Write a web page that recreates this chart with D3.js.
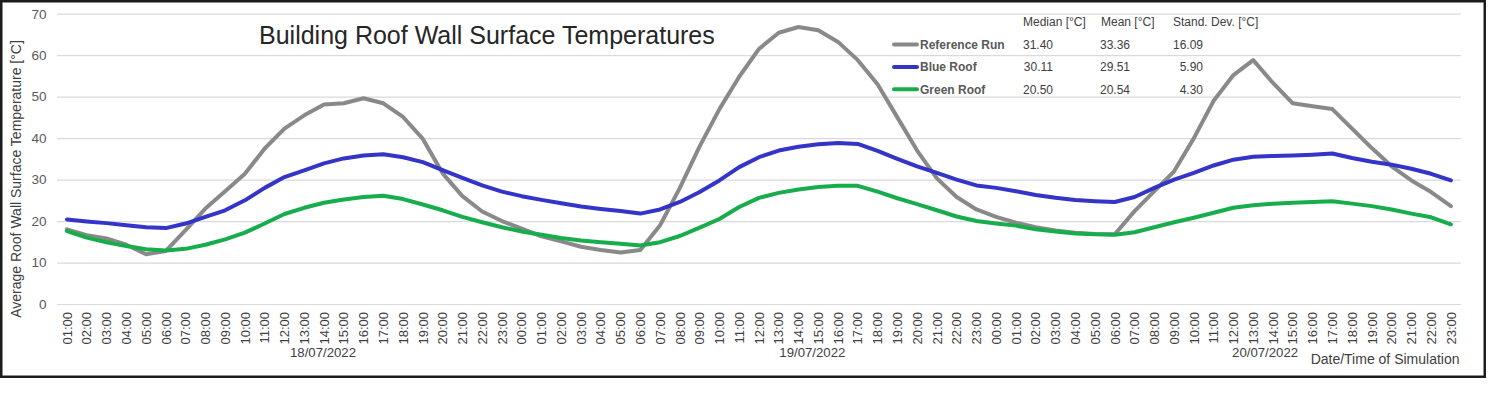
<!DOCTYPE html>
<html>
<head>
<meta charset="utf-8">
<script src="https://cdn.jsdelivr.net/npm/d3@7"></script>
<style>
  html, body { margin: 0; padding: 0; background: #ffffff; }
  svg { display: block; font-family: "Liberation Sans", Arial, Helvetica, sans-serif; }
</style>
</head>
<body>
<svg id="chart" width="1499" height="400"></svg>
<script>
// ---------------- DATA ----------------
const hourLabels = [
  "01:00","02:00","03:00","04:00","05:00","06:00","07:00","08:00","09:00","10:00","11:00","12:00",
  "13:00","14:00","15:00","16:00","17:00","18:00","19:00","20:00","21:00","22:00","23:00",
  "00:00","01:00","02:00","03:00","04:00","05:00","06:00","07:00","08:00","09:00","10:00","11:00","12:00",
  "13:00","14:00","15:00","16:00","17:00","18:00","19:00","20:00","21:00","22:00","23:00",
  "00:00","01:00","02:00","03:00","04:00","05:00","06:00","07:00","08:00","09:00","10:00","11:00","12:00",
  "13:00","14:00","15:00","16:00","17:00","18:00","19:00","20:00","21:00","22:00","23:00"
];

const referenceRun = [
  18.0,16.6,15.8,14.3,12.0,12.8,17.8,23.0,27.2,31.4,37.5,42.3,45.5,48.1,48.4,49.6,48.4,45.1,39.8,31.5,26.0,22.3,20.0,
  18.2,16.3,15.1,13.8,13.0,12.4,13.0,19.0,28.0,38.0,47.0,54.8,61.5,65.4,66.8,66.0,63.2,58.8,53.0,45.0,37.0,30.3,25.8,22.8,
  21.0,19.6,18.5,17.7,17.2,16.9,16.8,22.4,27.2,32.0,40.0,49.0,55.2,58.8,53.3,48.4,47.7,47.0,42.3,37.6,33.2,29.8,27.0,23.6
];

const blueRoof = [
  20.4,19.9,19.5,19.0,18.5,18.3,19.4,21.0,22.6,25.0,28.0,30.6,32.2,33.9,35.1,35.8,36.1,35.4,34.2,32.3,30.4,28.6,27.1,
  26.0,25.1,24.3,23.5,22.9,22.4,21.8,22.8,24.6,27.0,29.8,33.0,35.4,37.0,37.9,38.5,38.8,38.6,36.9,35.0,33.2,31.6,30.0,28.6,
  28.0,27.2,26.3,25.6,25.1,24.8,24.6,25.8,28.0,30.0,31.6,33.4,34.8,35.5,35.7,35.8,36.0,36.3,35.2,34.3,33.6,32.6,31.4,29.8
];

const greenRoof = [
  17.6,16.0,14.9,14.0,13.2,12.9,13.3,14.3,15.6,17.2,19.4,21.7,23.2,24.4,25.2,25.8,26.1,25.3,24.0,22.6,21.0,19.7,18.5,
  17.5,16.7,15.9,15.3,14.9,14.5,14.1,14.9,16.4,18.4,20.5,23.4,25.6,26.8,27.6,28.2,28.5,28.5,27.1,25.5,24.1,22.6,21.1,20.0,
  19.4,18.9,18.0,17.5,17.0,16.8,16.7,17.3,18.5,19.7,20.8,22.0,23.2,23.8,24.2,24.4,24.6,24.8,24.2,23.6,22.8,21.8,20.9,19.2
];

const yTicks = [0, 10, 20, 30, 40, 50, 60, 70];

const dateLabels = ["18/07/2022", "19/07/2022", "20/07/2022"];
const dateLabelIndex = [12.95, 37.7, 60.6];   // category position under which each date sits

const seriesNames = ["Reference Run", "Blue Roof", "Green Roof"];
const seriesColors = ["#898989", "#3434c8", "#18ad4c"];
const statHeaders = ["Median [°C]", "Mean [°C]", "Stand. Dev. [°C]"];
const medians = ["31.40", "30.11", "20.50"];
const means = ["33.36", "29.51", "20.54"];
const stdDevs = ["16.09", "5.90", "4.30"];

const chartTitle = "Building Roof Wall Surface Temperatures";
const yTitle = "Average Roof Wall Surface Temperature [°C]";
const xTitle = "Date/Time of Simulation";

// ---------------- LAYOUT ----------------
const svg = d3.select("#chart");
const plotLeft = 57.1, plotRight = 1460.8, plotTop = 13.7, plotBottom = 304;

svg.append("rect")
  .attr("x", 1.25).attr("y", 1.25)
  .attr("width", 1483.5).attr("height", 375.5)
  .attr("fill", "#ffffff")
  .attr("stroke", "#1c1c1c").attr("stroke-width", 2.5);

const x = d3.scaleBand()
  .domain(d3.range(hourLabels.length))
  .range([plotLeft, plotRight])
  .paddingInner(0).paddingOuter(0);
const cx = i => x(i) + x.bandwidth() / 2;
const cxFrac = f => plotLeft + x.step() * (f + 0.5);

const y = d3.scaleLinear().domain([0, 70]).range([plotBottom, plotTop]);

// Y axis with gridlines
const yAxisG = svg.append("g")
  .attr("transform", `translate(${plotLeft},0)`)
  .call(d3.axisLeft(y).tickValues(yTicks).tickSize(-(plotRight - plotLeft)).tickPadding(10.5).tickFormat(d3.format("d")));
yAxisG.select(".domain").remove();
yAxisG.selectAll(".tick line").attr("stroke", "#d9d9d9").attr("stroke-width", 1.2);
yAxisG.selectAll(".tick text")
  .attr("fill", "#595959")
  .style("font-size", "13.5px")
  .style("font-family", "'Liberation Sans', Arial, sans-serif");

// X axis
const xAxisG = svg.append("g")
  .attr("transform", `translate(0,${plotBottom})`)
  .call(d3.axisBottom(x).tickSize(0).tickFormat(i => hourLabels[i]));
xAxisG.select(".domain").remove();
xAxisG.selectAll(".tick text")
  .attr("transform", "rotate(-90)")
  .attr("text-anchor", "end")
  .attr("x", -8)
  .attr("y", 0)
  .attr("dy", "0.36em")
  .attr("fill", "#404040")
  .style("font-size", "13px")
  .style("font-family", "'Liberation Sans', Arial, sans-serif");

// Date labels
svg.append("g").selectAll("text")
  .data(dateLabels)
  .join("text")
  .attr("x", (d, i) => cxFrac(dateLabelIndex[i]))
  .attr("y", 357)
  .attr("text-anchor", "middle")
  .attr("fill", "#404040")
  .style("font-size", "13.2px")
  .text(d => d);

// X axis title
svg.append("text")
  .attr("x", 1459.5).attr("y", 364)
  .attr("text-anchor", "end")
  .attr("fill", "#404040")
  .style("font-size", "14px")
  .text(xTitle);

// Y axis title
svg.append("text")
  .attr("transform", "translate(16,179) rotate(-90)")
  .attr("text-anchor", "middle")
  .attr("dy", "0.35em")
  .attr("fill", "#404040")
  .style("font-size", "14px")
  .text(yTitle);

// Chart title
svg.append("text")
  .attr("x", 259).attr("y", 44)
  .attr("fill", "#262626")
  .style("font-size", "25px")
  .text(chartTitle);

// Lines
const allSeries = [referenceRun, blueRoof, greenRoof];
const line = d3.line().x((d, i) => cx(i)).y(d => y(d)).curve(d3.curveLinear);
svg.append("g").selectAll("path")
  .data(allSeries)
  .join("path")
  .attr("d", d => line(d))
  .attr("fill", "none")
  .attr("stroke", (d, i) => seriesColors[i])
  .attr("stroke-width", 4)
  .attr("stroke-linejoin", "round")
  .attr("stroke-linecap", "round");

// Legend / statistics table
const legend = svg.append("g");
const headerX = [1023, 1101, 1173];
const valueRightX = [1053, 1130, 1203];
const rowY = [44.5, 67, 89.3];

legend.selectAll("text.hdr")
  .data(statHeaders)
  .join("text")
  .attr("class", "hdr")
  .attr("x", (d, i) => headerX[i])
  .attr("y", 26)
  .attr("fill", "#404040")
  .style("font-size", "12px")
  .text(d => d);

seriesNames.forEach((name, r) => {
  legend.append("line")
    .attr("x1", 894).attr("x2", 917)
    .attr("y1", rowY[r]).attr("y2", rowY[r])
    .attr("stroke", seriesColors[r])
    .attr("stroke-width", 4)
    .attr("stroke-linecap", "round");
  legend.append("text")
    .attr("x", 920).attr("y", rowY[r])
    .attr("dy", "0.36em")
    .attr("fill", "#595959")
    .style("font-size", "12px")
    .style("font-weight", "bold")
    .text(name);
  [medians[r], means[r], stdDevs[r]].forEach((v, c) => {
    legend.append("text")
      .attr("x", valueRightX[c]).attr("y", rowY[r])
      .attr("dy", "0.36em")
      .attr("text-anchor", "end")
      .attr("fill", "#404040")
      .style("font-size", "12px")
      .text(v);
  });
});
</script>
</body>
</html>
